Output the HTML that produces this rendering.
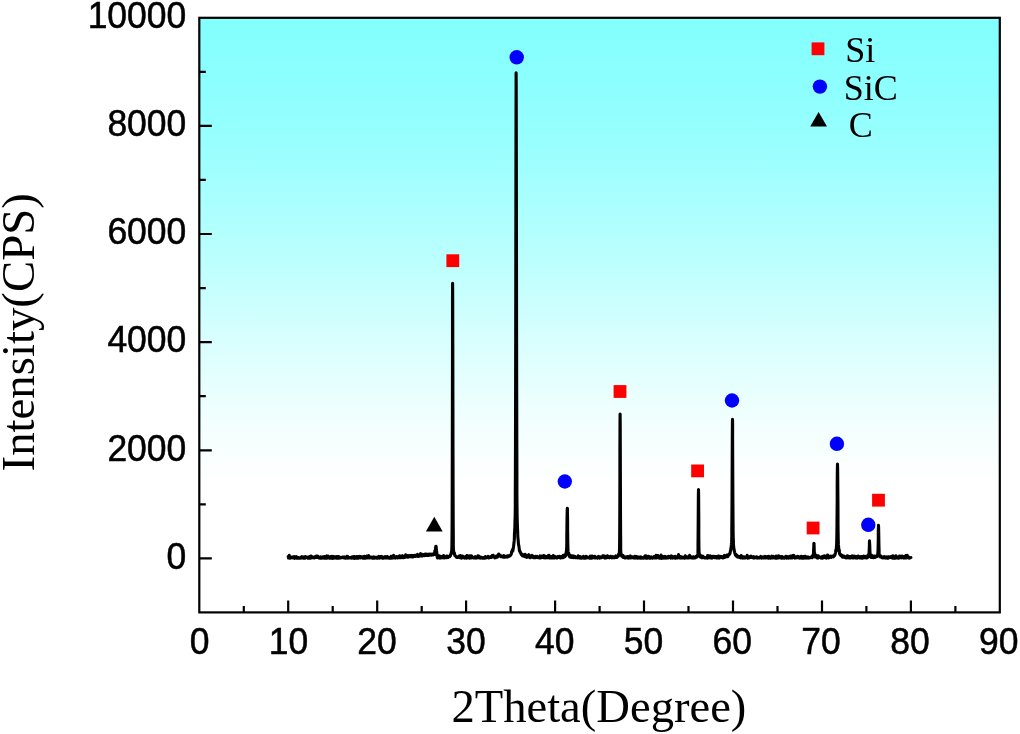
<!DOCTYPE html><html><head><meta charset="utf-8"><title>XRD pattern</title>
<style>html,body{margin:0;padding:0;background:#fff}body{width:1020px;height:734px;overflow:hidden}svg{display:block}.a{font-family:"Liberation Sans",Arial,sans-serif;font-size:35.5px;fill:#000;stroke:#000;stroke-width:0.5px}.s{font-family:"Liberation Serif","Times New Roman",serif;fill:#000}</style></head><body>
<svg width="1020" height="734" viewBox="0 0 1020 734">
<defs><linearGradient id="bg" x1="0" y1="0" x2="0" y2="1"><stop offset="0.0000" stop-color="rgb(130,255,254)"/><stop offset="0.1214" stop-color="rgb(141,255,254)"/><stop offset="0.2307" stop-color="rgb(155,255,254)"/><stop offset="0.3905" stop-color="rgb(184,255,254)"/><stop offset="0.5587" stop-color="rgb(219,255,254)"/><stop offset="0.6764" stop-color="rgb(241,255,254)"/><stop offset="0.7857" stop-color="rgb(255,255,255)"/><stop offset="1.0000" stop-color="rgb(255,255,255)"/></linearGradient></defs>
<rect width="1020" height="734" fill="#fff"/>
<rect x="199.3" y="17.8" width="800.5" height="594.6" fill="url(#bg)" stroke="#000" stroke-width="2.2"/>
<path d="M243.8,612.4 v-6.5 M288.2,612.4 v-12 M332.7,612.4 v-6.5 M377.2,612.4 v-12 M421.7,612.4 v-6.5 M466.1,612.4 v-12 M510.6,612.4 v-6.5 M555.1,612.4 v-12 M599.6,612.4 v-6.5 M644.0,612.4 v-12 M688.5,612.4 v-6.5 M733.0,612.4 v-12 M777.5,612.4 v-6.5 M822.0,612.4 v-12 M866.4,612.4 v-6.5 M910.9,612.4 v-12 M955.4,612.4 v-6.5 M199.3,558.4 h12.5 M199.3,504.3 h6.5 M199.3,450.3 h12.5 M199.3,396.2 h6.5 M199.3,342.1 h12.5 M199.3,288.1 h6.5 M199.3,234.0 h12.5 M199.3,179.9 h6.5 M199.3,125.8 h12.5 M199.3,71.8 h6.5" stroke="#000" stroke-width="2.2" fill="none"/>
<text class="a" transform="translate(186.3,568.7) scale(1.0,1.05)" text-anchor="end">0</text>
<text class="a" transform="translate(186.3,460.5) scale(1.0,1.05)" text-anchor="end">2000</text>
<text class="a" transform="translate(186.3,352.4) scale(1.0,1.05)" text-anchor="end">4000</text>
<text class="a" transform="translate(186.3,244.2) scale(1.0,1.05)" text-anchor="end">6000</text>
<text class="a" transform="translate(186.3,136.1) scale(1.0,1.05)" text-anchor="end">8000</text>
<text class="a" transform="translate(186.3,27.9) scale(1.0,1.05)" text-anchor="end">10000</text>
<text class="a" transform="translate(199.6,654.0) scale(1.0,1.045)" text-anchor="middle">0</text>
<text class="a" transform="translate(288.4,654.0) scale(1.0,1.045)" text-anchor="middle">10</text>
<text class="a" transform="translate(377.1,654.0) scale(1.0,1.045)" text-anchor="middle">20</text>
<text class="a" transform="translate(465.9,654.0) scale(1.0,1.045)" text-anchor="middle">30</text>
<text class="a" transform="translate(554.7,654.0) scale(1.0,1.045)" text-anchor="middle">40</text>
<text class="a" transform="translate(643.5,654.0) scale(1.0,1.045)" text-anchor="middle">50</text>
<text class="a" transform="translate(732.3,654.0) scale(1.0,1.045)" text-anchor="middle">60</text>
<text class="a" transform="translate(821.1,654.0) scale(1.0,1.045)" text-anchor="middle">70</text>
<text class="a" transform="translate(909.9,654.0) scale(1.0,1.045)" text-anchor="middle">80</text>
<text class="a" transform="translate(998.7,654.0) scale(1.0,1.045)" text-anchor="middle">90</text>
<text class="s" font-size="46.6" x="598.9" y="721.9" text-anchor="middle">2Theta(Degree)</text>
<text class="s" font-size="46.8" transform="translate(34.3,332.3) rotate(-90)" text-anchor="middle">Intensity(CPS)</text>
<path d="M288.2,556.4 288.6,558.0 289.0,557.8 289.3,555.4 289.7,558.3 290.0,557.9 290.4,557.7 290.7,557.9 291.1,557.8 291.5,557.1 291.8,557.3 292.2,557.8 292.5,557.5 292.9,557.7 293.2,556.9 293.6,557.1 293.9,557.5 294.3,556.6 294.7,558.3 295.0,557.5 295.4,557.1 295.7,558.0 296.1,557.5 296.4,556.6 296.8,557.6 297.1,558.2 297.5,557.5 297.9,557.6 298.2,558.1 298.6,557.7 298.9,558.1 299.3,557.8 299.6,558.1 300.0,557.9 300.3,558.2 300.7,558.2 301.1,558.0 301.4,556.8 301.8,556.6 302.1,556.9 302.5,558.0 302.8,557.0 303.2,558.1 303.5,558.2 303.9,557.1 304.3,557.1 304.6,558.1 305.0,558.2 305.3,556.5 305.7,557.0 306.0,557.6 306.4,557.5 306.8,557.1 307.1,557.7 307.5,557.9 307.8,558.2 308.2,557.0 308.5,557.4 308.9,558.1 309.2,557.9 309.6,556.6 310.0,556.9 310.3,557.4 310.7,558.2 311.0,556.0 311.4,557.4 311.7,557.7 312.1,556.6 312.4,557.1 312.8,557.8 313.2,557.7 313.5,557.8 313.9,557.6 314.2,557.9 314.6,556.8 314.9,557.2 315.3,557.6 315.6,557.5 316.0,557.5 316.4,556.2 316.7,557.5 317.1,556.3 317.4,557.3 317.8,556.3 318.1,557.1 318.5,557.5 318.8,557.8 319.2,557.4 319.6,557.4 319.9,558.1 320.3,557.7 320.6,558.0 321.0,556.9 321.3,557.2 321.7,558.2 322.1,558.0 322.4,557.4 322.8,556.9 323.1,557.1 323.5,557.8 323.8,557.3 324.2,558.2 324.5,556.5 324.9,557.6 325.3,557.4 325.6,558.2 326.0,558.2 326.3,556.4 326.7,555.9 327.0,558.2 327.4,556.2 327.7,556.1 328.1,556.1 328.5,557.3 328.8,558.0 329.2,557.7 329.5,557.7 329.9,558.2 330.2,557.5 330.6,558.1 330.9,556.6 331.3,558.1 331.7,558.1 332.0,556.3 332.4,557.1 332.7,558.3 333.1,557.8 333.4,558.1 333.8,556.5 334.1,557.9 334.5,557.8 334.9,558.1 335.2,557.5 335.6,557.2 335.9,558.0 336.3,556.6 336.6,557.4 337.0,558.2 337.4,557.8 337.7,558.1 338.1,556.6 338.4,557.3 338.8,557.9 339.1,558.1 339.5,556.9 339.8,557.5 340.2,557.7 340.6,558.0 340.9,557.7 341.3,557.7 341.6,557.3 342.0,557.6 342.3,557.7 342.7,557.3 343.0,557.0 343.4,557.4 343.8,557.7 344.1,557.9 344.5,557.0 344.8,557.2 345.2,558.2 345.5,557.8 345.9,558.2 346.2,557.5 346.6,557.6 347.0,556.3 347.3,556.6 347.7,556.5 348.0,558.2 348.4,557.3 348.7,557.9 349.1,557.3 349.4,557.9 349.8,557.8 350.2,557.6 350.5,557.5 350.9,558.0 351.2,558.1 351.6,557.1 351.9,558.1 352.3,556.7 352.6,556.7 353.0,558.1 353.4,558.1 353.7,558.2 354.1,556.6 354.4,556.8 354.8,558.3 355.1,556.7 355.5,557.1 355.9,557.5 356.2,558.2 356.6,556.5 356.9,556.5 357.3,557.8 357.6,558.2 358.0,557.9 358.3,556.6 358.7,558.1 359.1,557.9 359.4,556.6 359.8,556.4 360.1,556.6 360.5,557.9 360.8,557.0 361.2,556.8 361.5,557.3 361.9,556.9 362.3,556.8 362.6,557.1 363.0,558.1 363.3,556.9 363.7,556.6 364.0,558.3 364.4,556.2 364.7,558.2 365.1,557.9 365.5,557.9 365.8,558.1 366.2,556.3 366.5,557.8 366.9,556.0 367.2,557.5 367.6,557.9 367.9,557.9 368.3,556.6 368.7,555.7 369.0,557.9 369.4,557.5 369.7,557.9 370.1,557.6 370.4,557.1 370.8,557.6 371.2,557.7 371.5,557.2 371.9,557.6 372.2,558.1 372.6,557.6 372.9,557.2 373.3,558.1 373.6,556.9 374.0,557.0 374.4,558.2 374.7,558.1 375.1,557.3 375.4,557.4 375.8,557.4 376.1,557.9 376.5,557.3 376.8,558.2 377.2,558.1 377.6,557.7 377.9,558.1 378.3,556.7 378.6,556.5 379.0,557.4 379.3,558.1 379.7,557.9 380.0,558.0 380.4,556.6 380.8,557.5 381.1,556.9 381.5,556.4 381.8,557.8 382.2,558.1 382.5,558.2 382.9,557.2 383.2,558.2 383.6,557.6 384.0,557.0 384.3,557.0 384.7,557.8 385.0,557.4 385.4,556.6 385.7,557.1 386.1,557.8 386.5,557.3 386.8,557.7 387.2,557.8 387.5,556.5 387.9,558.0 388.2,557.4 388.6,558.0 388.9,557.5 389.3,558.2 389.7,557.7 390.0,557.8 390.4,558.2 390.7,558.2 391.1,556.3 391.4,558.1 391.8,556.5 392.1,557.3 392.5,557.4 392.9,558.0 393.2,557.4 393.6,555.3 393.9,556.5 394.3,556.9 394.6,557.1 395.0,558.0 395.3,558.1 395.7,557.8 396.1,557.8 396.4,556.5 396.8,557.1 397.1,557.1 397.5,557.8 397.8,557.4 398.2,556.7 398.5,557.7 398.9,557.6 399.3,557.7 399.6,555.9 400.0,557.1 400.3,556.8 400.7,556.6 401.0,557.7 401.4,557.5 401.8,556.1 402.1,556.2 402.5,555.7 402.8,557.6 403.2,556.6 403.5,557.1 403.9,557.5 404.2,556.6 404.6,557.3 405.0,556.8 405.3,557.2 405.7,554.8 406.0,556.2 406.4,556.6 406.7,556.9 407.1,556.3 407.4,555.6 407.8,557.2 408.2,556.0 408.5,557.0 408.9,555.5 409.2,556.0 409.6,556.6 409.9,555.8 410.3,556.7 410.6,555.5 411.0,555.4 411.4,556.2 411.7,556.8 412.1,556.9 412.4,555.6 412.8,555.8 413.1,556.9 413.5,555.5 413.8,556.6 414.2,555.6 414.6,556.3 414.9,555.3 415.3,555.3 415.6,556.3 416.0,556.1 416.3,555.6 416.7,555.8 417.0,555.1 417.4,554.4 417.8,556.4 418.1,556.5 418.5,556.5 418.8,556.2 419.2,555.4 419.5,556.1 419.9,555.0 420.3,554.9 420.6,553.7 421.0,555.7 421.3,555.9 421.7,555.4 422.0,554.3 422.4,555.4 422.7,555.9 423.1,555.6 423.5,554.7 423.8,554.9 424.2,555.1 424.5,554.5 424.9,555.6 425.2,554.1 425.6,554.7 425.9,555.4 426.3,555.4 426.7,554.8 427.0,554.1 427.4,555.4 427.7,555.2 428.1,554.9 428.4,555.5 428.8,554.9 429.1,554.1 429.5,555.2 429.9,554.9 430.2,554.9 430.6,554.1 430.9,554.6 431.3,555.2 431.6,554.5 432.0,554.8 432.3,554.0 432.7,554.3 433.1,554.9 433.4,554.3 433.8,554.3 434.1,553.9 434.2,553.7 434.3,553.5 434.4,554.4 434.5,554.4 434.6,552.7 434.7,554.5 434.8,550.7 434.8,552.8 434.9,553.9 435.0,553.8 435.1,551.9 435.2,551.8 435.3,551.7 435.4,551.4 435.5,550.3 435.6,548.6 435.6,548.5 435.7,546.5 435.8,547.1 435.9,546.8 436.0,547.2 436.1,546.3 436.2,547.0 436.3,549.2 436.4,550.2 436.4,551.1 436.5,552.0 436.6,551.4 436.7,551.5 436.8,552.3 436.9,553.8 437.0,554.0 437.1,556.6 437.2,556.9 437.2,556.6 437.3,556.4 437.4,557.5 437.5,557.9 437.6,557.7 437.7,557.9 438.0,556.9 438.4,557.5 438.8,557.7 439.1,555.7 439.5,557.3 439.8,556.3 440.2,558.1 440.5,557.0 440.9,556.3 441.2,557.8 441.6,556.5 442.0,557.8 442.3,557.5 442.7,556.6 443.0,557.2 443.4,557.4 443.7,555.5 444.1,558.0 444.4,557.9 444.8,557.6 445.2,557.7 445.5,557.7 445.9,556.5 446.2,557.2 446.6,556.1 446.9,557.6 447.3,557.4 447.6,556.2 448.0,557.6 448.4,557.5 448.7,556.7 449.1,556.3 449.4,556.4 449.8,556.5 450.1,555.4 450.5,555.5 450.9,553.8 450.9,554.5 451.0,554.0 451.1,553.7 451.2,553.7 451.3,552.3 451.4,552.8 451.5,552.8 451.6,551.8 451.7,551.1 451.7,549.8 451.8,549.4 451.9,546.0 452.0,537.9 452.1,524.0 452.2,496.7 452.3,455.0 452.4,402.3 452.5,344.3 452.5,301.0 452.6,283.3 452.7,299.1 452.8,345.5 452.9,402.2 453.0,456.2 453.1,496.2 453.2,523.8 453.3,536.7 453.3,545.4 453.4,549.3 453.5,549.9 453.6,551.5 453.7,551.1 453.8,552.2 453.9,552.7 454.0,552.9 454.1,553.6 454.1,553.8 454.2,554.0 454.3,553.2 454.4,552.9 454.8,555.3 455.1,555.6 455.5,556.0 455.8,556.4 456.2,556.9 456.5,557.3 456.9,557.4 457.3,557.0 457.6,557.0 458.0,556.6 458.3,557.4 458.7,556.4 459.0,556.9 459.4,556.9 459.7,555.9 460.1,557.8 460.5,555.5 460.8,557.9 461.2,556.2 461.5,558.1 461.9,556.8 462.2,557.7 462.6,556.0 462.9,557.5 463.3,557.6 463.7,557.1 464.0,557.2 464.4,557.6 464.7,558.0 465.1,557.5 465.4,556.7 465.8,556.9 466.1,557.5 466.5,558.1 466.9,555.6 467.2,557.9 467.6,557.7 467.9,557.7 468.3,555.9 468.6,557.6 469.0,557.9 469.4,558.1 469.7,557.3 470.1,555.8 470.4,556.9 470.8,556.5 471.1,558.0 471.5,557.5 471.8,555.9 472.2,557.6 472.6,557.1 472.9,557.7 473.3,557.6 473.6,557.9 474.0,557.4 474.3,557.6 474.7,557.8 475.0,556.8 475.4,557.7 475.8,558.0 476.1,556.9 476.5,557.7 476.8,557.9 477.2,557.5 477.5,557.3 477.9,555.9 478.2,557.6 478.6,556.1 479.0,557.3 479.3,558.0 479.7,558.0 480.0,557.8 480.4,558.1 480.7,557.1 481.1,557.4 481.4,557.9 481.8,557.6 482.2,558.1 482.5,558.1 482.9,557.5 483.2,557.5 483.6,558.2 483.9,558.1 484.3,557.7 484.7,557.5 485.0,558.2 485.4,556.6 485.7,557.9 486.1,557.4 486.4,557.8 486.8,557.3 487.1,557.3 487.5,557.4 487.9,557.4 488.2,556.4 488.6,557.9 488.9,557.4 489.3,557.9 489.6,557.0 490.0,556.8 490.3,557.5 490.7,557.2 491.1,557.3 491.4,557.4 491.8,556.9 492.1,555.7 492.5,556.8 492.8,556.5 493.2,555.3 493.5,556.6 493.9,557.2 494.3,557.4 494.6,556.7 495.0,557.9 495.3,557.3 495.7,557.3 496.0,557.5 496.4,556.1 496.7,556.8 497.1,556.0 497.5,557.1 497.8,556.2 498.2,554.7 498.5,554.2 498.9,554.7 499.2,554.5 499.6,555.7 500.0,556.0 500.3,555.7 500.7,556.7 501.0,555.7 501.4,556.1 501.7,556.5 502.1,556.8 502.4,556.9 502.8,557.0 503.2,556.0 503.5,557.2 503.9,555.7 504.2,556.9 504.6,557.1 504.9,556.2 505.3,557.1 505.6,556.9 506.0,556.9 506.4,556.9 506.7,556.7 507.1,557.0 507.4,555.9 507.8,556.6 508.1,555.8 508.5,556.7 508.8,555.8 509.2,556.3 509.6,555.5 509.9,555.8 510.3,555.6 510.6,555.0 511.0,554.7 511.3,554.0 511.7,551.5 512.0,551.9 512.4,549.8 512.8,551.0 513.1,549.3 513.5,546.7 513.8,544.4 514.2,540.7 514.4,538.0 514.4,535.6 514.5,532.5 514.6,532.8 514.7,529.0 514.8,528.6 514.9,526.1 515.0,520.1 515.1,519.1 515.2,514.3 515.3,506.0 515.3,493.4 515.4,471.8 515.5,441.0 515.6,396.1 515.7,339.0 515.8,269.0 515.9,197.0 516.0,133.7 516.1,87.4 516.1,72.8 516.2,88.1 516.3,133.4 516.4,197.5 516.5,268.7 516.6,338.6 516.7,395.9 516.8,440.7 516.9,471.8 516.9,493.6 517.0,506.1 517.1,514.2 517.2,519.2 517.3,522.4 517.4,525.4 517.5,528.1 517.6,530.3 517.7,532.4 517.7,533.4 517.8,536.1 517.9,537.6 518.1,539.4 518.5,544.5 518.8,545.5 519.2,548.4 519.5,551.0 519.9,550.9 520.2,552.4 520.6,553.0 520.9,552.8 521.3,554.6 521.7,554.8 522.0,555.4 522.4,555.9 522.7,554.5 523.1,555.0 523.4,555.9 523.8,555.5 524.1,555.7 524.5,556.6 524.9,556.7 525.2,554.3 525.6,556.4 525.9,556.9 526.3,556.8 526.6,555.6 527.0,557.3 527.3,556.4 527.7,556.9 528.1,556.1 528.4,555.2 528.8,554.7 529.1,556.9 529.5,556.5 529.8,557.6 530.2,556.9 530.5,557.6 530.9,555.9 531.3,556.6 531.6,556.6 532.0,556.8 532.3,555.4 532.7,557.0 533.0,556.1 533.4,557.7 533.8,557.5 534.1,557.2 534.5,556.8 534.8,557.7 535.2,557.7 535.5,556.3 535.9,556.3 536.2,557.6 536.6,557.5 537.0,557.2 537.3,556.4 537.7,557.1 538.0,557.6 538.4,557.4 538.7,557.7 539.1,557.3 539.4,557.2 539.8,558.0 540.2,555.9 540.5,557.9 540.9,557.2 541.2,556.8 541.6,557.5 541.9,556.2 542.3,557.2 542.6,557.4 543.0,556.8 543.4,557.2 543.7,555.6 544.1,556.5 544.4,557.8 544.8,557.0 545.1,556.2 545.5,557.2 545.8,557.8 546.2,557.2 546.6,557.7 546.9,557.7 547.3,556.4 547.6,557.6 548.0,557.3 548.3,555.5 548.7,557.6 549.1,555.3 549.4,557.8 549.8,558.0 550.1,558.0 550.5,557.2 550.8,557.5 551.2,557.8 551.5,556.5 551.9,557.0 552.3,557.9 552.6,557.4 553.0,556.6 553.3,555.5 553.7,558.0 554.0,557.6 554.4,558.0 554.7,557.9 555.1,557.2 555.5,556.7 555.8,557.1 556.2,557.3 556.5,557.7 556.9,558.0 557.2,557.4 557.6,556.6 557.9,557.4 558.3,557.4 558.7,556.8 559.0,557.4 559.4,556.3 559.7,557.6 560.1,557.8 560.4,558.0 560.8,557.1 561.1,557.2 561.5,556.5 561.9,557.6 562.2,557.1 562.6,557.6 562.9,557.7 563.3,555.4 563.6,556.3 564.0,557.2 564.4,555.3 564.7,555.8 565.1,556.6 565.4,555.7 565.5,556.1 565.6,555.8 565.7,555.1 565.8,553.6 565.9,554.6 566.0,554.9 566.0,554.8 566.1,553.9 566.2,554.0 566.3,551.2 566.4,552.3 566.5,551.1 566.6,548.7 566.7,547.1 566.8,541.8 566.8,537.3 566.9,529.5 567.0,520.9 567.1,515.5 567.2,510.2 567.3,508.3 567.4,508.4 567.5,514.8 567.6,522.0 567.6,530.2 567.7,535.1 567.8,543.3 567.9,546.2 568.0,549.7 568.1,551.9 568.2,552.7 568.3,552.8 568.4,553.6 568.4,553.6 568.5,554.7 568.6,553.7 568.7,553.3 568.8,553.1 568.9,555.3 569.0,554.1 569.1,555.9 569.3,555.8 569.7,556.8 570.0,555.0 570.4,555.4 570.8,556.9 571.1,557.4 571.5,557.0 571.8,557.5 572.2,557.5 572.5,557.0 572.9,555.8 573.2,556.9 573.6,557.6 574.0,557.2 574.3,557.1 574.7,556.4 575.0,556.5 575.4,557.1 575.7,557.7 576.1,557.4 576.4,557.6 576.8,557.1 577.2,557.6 577.5,557.8 577.9,556.8 578.2,555.8 578.6,557.5 578.9,557.4 579.3,558.0 579.7,556.5 580.0,557.3 580.4,557.8 580.7,557.8 581.1,558.2 581.4,557.2 581.8,558.1 582.1,557.4 582.5,558.0 582.9,557.8 583.2,557.4 583.6,556.4 583.9,557.5 584.3,558.2 584.6,557.5 585.0,558.1 585.3,557.4 585.7,558.0 586.1,556.3 586.4,557.6 586.8,557.8 587.1,557.4 587.5,557.7 587.8,557.1 588.2,557.7 588.5,557.3 588.9,557.7 589.3,558.0 589.6,558.2 590.0,556.8 590.3,556.2 590.7,558.2 591.0,558.1 591.4,557.8 591.7,558.2 592.1,556.1 592.5,557.2 592.8,557.7 593.2,557.1 593.5,557.7 593.9,556.6 594.2,557.6 594.6,557.8 594.9,556.3 595.3,557.9 595.7,558.0 596.0,557.7 596.4,557.8 596.7,557.4 597.1,557.7 597.4,558.2 597.8,557.4 598.2,556.6 598.5,556.4 598.9,556.6 599.2,557.5 599.6,558.1 599.9,557.5 600.3,557.3 600.6,557.5 601.0,556.8 601.4,557.1 601.7,557.7 602.1,556.8 602.4,557.2 602.8,555.9 603.1,557.3 603.5,555.9 603.8,556.7 604.2,556.1 604.6,558.0 604.9,558.1 605.3,557.8 605.6,556.2 606.0,558.0 606.3,557.2 606.7,557.7 607.0,557.0 607.4,555.8 607.8,556.1 608.1,556.3 608.5,557.5 608.8,557.5 609.2,557.8 609.5,557.2 609.9,557.0 610.2,557.4 610.6,556.3 611.0,557.2 611.3,557.6 611.7,557.1 612.0,557.9 612.4,557.1 612.7,556.6 613.1,557.7 613.5,557.4 613.8,557.7 614.2,557.0 614.5,557.7 614.9,557.7 615.2,557.0 615.6,556.8 615.9,555.9 616.3,557.3 616.7,557.4 617.0,557.4 617.4,556.5 617.7,555.9 618.1,556.4 618.3,555.4 618.4,556.2 618.5,555.7 618.6,554.2 618.7,555.5 618.8,555.7 618.9,554.5 619.0,554.7 619.1,554.8 619.1,554.8 619.2,553.8 619.3,552.6 619.4,552.2 619.5,549.8 619.6,544.7 619.7,532.6 619.8,512.5 619.9,482.4 619.9,450.5 620.0,424.5 620.1,414.0 620.2,423.7 620.3,450.3 620.4,483.5 620.5,511.9 620.6,531.7 620.7,543.7 620.7,550.1 620.8,551.5 620.9,553.1 621.0,553.9 621.1,554.3 621.2,554.1 621.3,554.0 621.4,555.1 621.5,555.5 621.5,555.3 621.6,555.4 621.7,556.2 621.8,556.2 621.9,555.7 622.0,555.9 622.3,555.8 622.7,556.9 623.1,555.5 623.4,557.4 623.8,557.2 624.1,557.3 624.5,556.7 624.8,557.9 625.2,558.0 625.5,557.0 625.9,557.9 626.3,557.2 626.6,557.0 627.0,557.7 627.3,557.8 627.7,556.5 628.0,556.8 628.4,557.4 628.8,558.1 629.1,556.7 629.5,557.1 629.8,557.6 630.2,557.2 630.5,555.9 630.9,557.9 631.2,556.7 631.6,557.5 632.0,557.8 632.3,557.7 632.7,557.0 633.0,557.4 633.4,557.9 633.7,557.8 634.1,556.9 634.4,558.0 634.8,556.3 635.2,558.1 635.5,557.7 635.9,557.2 636.2,558.0 636.6,556.6 636.9,557.9 637.3,558.1 637.6,558.2 638.0,557.1 638.4,557.7 638.7,557.1 639.1,557.9 639.4,557.3 639.8,557.3 640.1,558.1 640.5,557.4 640.8,556.8 641.2,558.2 641.6,557.7 641.9,557.6 642.3,557.5 642.6,558.1 643.0,558.2 643.3,557.8 643.7,557.7 644.0,557.8 644.4,556.9 644.8,556.2 645.1,557.7 645.5,558.0 645.8,555.7 646.2,556.9 646.5,558.2 646.9,557.7 647.3,557.3 647.6,558.1 648.0,556.4 648.3,556.3 648.7,557.7 649.0,557.9 649.4,558.1 649.7,556.9 650.1,557.4 650.5,557.2 650.8,558.1 651.2,557.3 651.5,557.0 651.9,558.0 652.2,557.9 652.6,558.2 652.9,558.0 653.3,557.3 653.7,557.7 654.0,556.6 654.4,556.6 654.7,557.9 655.1,558.0 655.4,557.8 655.8,557.8 656.1,555.4 656.5,557.9 656.9,557.7 657.2,557.7 657.6,557.4 657.9,555.6 658.3,556.9 658.6,557.8 659.0,557.0 659.3,556.4 659.7,558.2 660.1,557.8 660.4,557.7 660.8,558.0 661.1,555.1 661.5,557.7 661.8,558.3 662.2,557.8 662.6,557.1 662.9,557.6 663.3,556.7 663.6,558.1 664.0,558.2 664.3,557.4 664.7,557.0 665.0,556.4 665.4,557.6 665.8,557.9 666.1,558.1 666.5,557.4 666.8,557.9 667.2,556.8 667.5,557.9 667.9,558.0 668.2,558.0 668.6,556.3 669.0,556.8 669.3,557.2 669.7,557.1 670.0,556.7 670.4,557.2 670.7,558.1 671.1,557.5 671.4,555.9 671.8,557.7 672.2,558.0 672.5,556.4 672.9,557.9 673.2,557.6 673.6,557.8 673.9,557.8 674.3,557.8 674.6,558.0 675.0,556.2 675.4,557.4 675.7,558.1 676.1,556.9 676.4,558.0 676.8,556.9 677.1,556.6 677.5,557.9 677.9,557.1 678.2,557.2 678.6,554.6 678.9,557.4 679.3,557.1 679.6,558.0 680.0,556.5 680.3,557.2 680.7,556.7 681.1,558.1 681.4,557.2 681.8,556.8 682.1,557.4 682.5,557.4 682.8,558.0 683.2,558.0 683.5,557.3 683.9,557.3 684.3,556.9 684.6,558.2 685.0,556.9 685.3,555.8 685.7,556.5 686.0,557.0 686.4,556.9 686.7,557.9 687.1,557.8 687.5,558.0 687.8,556.9 688.2,558.0 688.5,557.4 688.9,557.0 689.2,557.9 689.6,555.4 689.9,557.1 690.3,557.1 690.7,557.4 691.0,557.4 691.4,558.0 691.7,558.0 692.1,556.9 692.4,557.7 692.8,557.1 693.2,558.1 693.5,556.8 693.9,557.6 694.2,557.4 694.6,557.5 694.9,557.9 695.3,557.3 695.6,557.6 696.0,556.6 696.4,556.2 696.7,556.1 696.8,555.9 696.9,557.0 697.0,556.5 697.1,555.9 697.2,556.1 697.2,556.0 697.3,555.5 697.4,556.0 697.5,555.6 697.6,555.7 697.7,554.9 697.8,554.6 697.9,553.9 698.0,548.7 698.0,545.0 698.1,535.8 698.2,521.5 698.3,505.9 698.4,494.0 698.5,489.5 698.6,494.4 698.7,506.6 698.8,519.7 698.8,535.5 698.9,545.3 699.0,551.3 699.1,552.7 699.2,555.2 699.3,555.7 699.4,555.9 699.5,554.9 699.6,554.9 699.6,555.9 699.7,554.3 699.8,556.8 699.9,556.2 700.0,556.5 700.1,554.9 700.2,556.1 700.3,555.1 700.6,557.3 701.0,555.7 701.3,557.2 701.7,557.4 702.0,557.8 702.4,557.5 702.8,556.2 703.1,556.6 703.5,557.4 703.8,557.3 704.2,557.9 704.5,557.9 704.9,557.4 705.2,557.7 705.6,557.9 706.0,557.8 706.3,557.6 706.7,557.7 707.0,557.2 707.4,558.1 707.7,555.5 708.1,555.8 708.4,557.5 708.8,557.8 709.2,556.0 709.5,557.5 709.9,557.2 710.2,557.4 710.6,555.9 710.9,557.9 711.3,558.0 711.7,557.3 712.0,558.1 712.4,557.2 712.7,556.4 713.1,556.7 713.4,556.4 713.8,556.3 714.1,557.3 714.5,557.7 714.9,556.5 715.2,557.5 715.6,557.5 715.9,556.5 716.3,557.9 716.6,557.7 717.0,556.5 717.3,557.9 717.7,556.7 718.1,556.2 718.4,557.9 718.8,556.1 719.1,557.3 719.5,558.0 719.8,556.8 720.2,556.4 720.5,557.6 720.9,557.5 721.3,556.5 721.6,557.1 722.0,557.1 722.3,557.8 722.7,557.9 723.0,557.2 723.4,557.8 723.7,556.3 724.1,557.6 724.5,555.4 724.8,556.2 725.2,556.3 725.5,557.1 725.9,556.1 726.2,556.7 726.6,556.5 727.0,555.0 727.3,556.0 727.7,556.7 728.0,556.2 728.4,555.0 728.7,555.2 729.1,554.2 729.4,554.5 729.8,553.7 730.2,552.5 730.5,550.4 730.7,550.4 730.8,549.8 730.9,548.4 731.0,548.5 731.0,547.5 731.1,547.8 731.2,546.4 731.3,545.8 731.4,544.7 731.5,543.0 731.6,542.4 731.7,539.8 731.8,535.6 731.8,529.7 731.9,517.4 732.0,503.2 732.1,484.4 732.2,461.7 732.3,439.3 732.4,424.0 732.5,419.3 732.6,423.6 732.6,438.9 732.7,461.1 732.8,483.9 732.9,502.2 733.0,518.6 733.1,529.7 733.2,535.9 733.3,539.8 733.4,540.1 733.4,543.6 733.5,545.2 733.6,545.6 733.7,547.1 733.8,547.6 733.9,548.6 734.0,549.4 734.1,549.4 734.2,549.6 734.2,550.9 734.4,551.0 734.8,552.8 735.1,554.0 735.5,555.2 735.8,554.2 736.2,555.4 736.6,556.2 736.9,555.3 737.3,556.4 737.6,557.0 738.0,556.4 738.3,557.2 738.7,557.3 739.0,556.4 739.4,557.3 739.8,557.6 740.1,557.0 740.5,557.2 740.8,557.8 741.2,555.6 741.5,557.4 741.9,556.3 742.3,557.6 742.6,558.0 743.0,557.5 743.3,556.9 743.7,557.5 744.0,558.0 744.4,556.9 744.7,557.1 745.1,558.0 745.5,557.7 745.8,557.5 746.2,556.9 746.5,557.3 746.9,557.3 747.2,555.4 747.6,558.1 747.9,557.9 748.3,557.7 748.7,557.1 749.0,557.8 749.4,556.9 749.7,557.7 750.1,557.6 750.4,556.7 750.8,557.5 751.1,556.2 751.5,556.4 751.9,557.5 752.2,557.6 752.6,557.7 752.9,557.5 753.3,556.9 753.6,556.7 754.0,558.1 754.3,557.8 754.7,557.9 755.1,557.9 755.4,557.8 755.8,557.1 756.1,557.6 756.5,557.5 756.8,556.9 757.2,558.1 757.6,557.9 757.9,557.3 758.3,557.8 758.6,557.9 759.0,557.5 759.3,557.8 759.7,558.0 760.0,557.9 760.4,557.4 760.8,556.4 761.1,557.4 761.5,557.5 761.8,558.1 762.2,557.9 762.5,557.2 762.9,556.8 763.2,557.7 763.6,557.9 764.0,557.6 764.3,557.9 764.7,556.7 765.0,556.3 765.4,556.6 765.7,557.9 766.1,557.2 766.4,557.7 766.8,557.1 767.2,557.9 767.5,558.0 767.9,556.6 768.2,557.7 768.6,558.1 768.9,556.2 769.3,558.1 769.6,557.9 770.0,557.4 770.4,557.5 770.7,558.1 771.1,556.9 771.4,557.3 771.8,556.2 772.1,558.0 772.5,558.0 772.8,556.8 773.2,556.3 773.6,557.2 773.9,557.7 774.3,557.6 774.6,557.1 775.0,557.5 775.3,558.1 775.7,556.7 776.1,556.1 776.4,557.2 776.8,558.2 777.1,558.0 777.5,556.2 777.8,557.8 778.2,557.9 778.5,555.9 778.9,557.6 779.3,557.7 779.6,557.3 780.0,556.9 780.3,556.9 780.7,557.4 781.0,556.5 781.4,558.2 781.7,557.4 782.1,558.2 782.5,556.7 782.8,558.0 783.2,557.5 783.5,557.9 783.9,558.1 784.2,557.6 784.6,558.0 784.9,557.0 785.3,557.4 785.7,557.6 786.0,556.3 786.4,558.0 786.7,558.2 787.1,557.6 787.4,556.7 787.8,557.5 788.1,557.6 788.5,558.0 788.9,557.3 789.2,556.6 789.6,558.0 789.9,558.0 790.3,557.8 790.6,556.0 791.0,557.6 791.4,557.9 791.7,557.0 792.1,558.0 792.4,557.6 792.8,555.6 793.1,556.7 793.5,556.5 793.8,555.4 794.2,556.6 794.6,557.7 794.9,558.1 795.3,557.0 795.6,558.0 796.0,556.8 796.3,556.8 796.7,557.8 797.0,557.8 797.4,557.8 797.8,556.4 798.1,557.8 798.5,556.7 798.8,557.6 799.2,558.0 799.5,558.1 799.9,557.2 800.2,557.9 800.6,557.6 801.0,558.0 801.3,556.3 801.7,556.5 802.0,558.1 802.4,558.2 802.7,558.1 803.1,557.6 803.4,556.5 803.8,558.2 804.2,558.0 804.5,557.1 804.9,556.4 805.2,557.5 805.6,556.4 805.9,558.1 806.3,557.5 806.7,557.2 807.0,557.8 807.4,557.2 807.7,557.4 808.1,556.9 808.4,558.1 808.8,557.8 809.1,557.7 809.5,557.8 809.9,557.9 810.2,557.6 810.6,557.1 810.9,557.3 811.3,557.2 811.6,557.0 812.0,557.2 812.2,557.6 812.3,557.7 812.3,557.6 812.4,556.7 812.5,555.7 812.6,556.1 812.7,555.6 812.8,556.0 812.9,556.6 813.0,555.7 813.1,556.6 813.1,556.7 813.2,555.5 813.3,554.7 813.4,553.9 813.5,553.2 813.6,549.7 813.7,548.8 813.8,546.4 813.9,543.2 813.9,543.4 814.0,543.7 814.1,545.3 814.2,548.7 814.3,551.4 814.4,553.1 814.5,554.8 814.6,555.5 814.7,552.9 814.7,556.5 814.8,555.7 814.9,556.0 815.0,557.0 815.1,557.0 815.2,556.5 815.3,556.2 815.4,556.7 815.5,555.1 815.5,556.5 815.6,556.8 815.7,556.9 815.9,555.4 816.3,557.0 816.6,556.6 817.0,557.8 817.3,555.8 817.7,556.3 818.0,558.1 818.4,555.8 818.7,557.1 819.1,557.0 819.5,557.3 819.8,557.3 820.2,557.5 820.5,557.9 820.9,557.0 821.2,556.9 821.6,558.1 822.0,558.0 822.3,557.7 822.7,556.6 823.0,558.1 823.4,557.6 823.7,556.1 824.1,556.2 824.4,556.9 824.8,555.9 825.2,557.7 825.5,557.8 825.9,557.0 826.2,557.6 826.6,558.0 826.9,556.1 827.3,557.3 827.6,555.0 828.0,555.9 828.4,556.4 828.7,557.9 829.1,557.5 829.4,557.5 829.8,557.0 830.1,557.2 830.5,556.1 830.8,556.9 831.2,557.4 831.6,557.2 831.9,556.4 832.3,556.1 832.6,556.6 833.0,556.3 833.3,556.8 833.7,556.5 834.0,555.6 834.4,555.8 834.8,555.3 835.1,554.2 835.5,552.6 835.7,551.7 835.8,550.0 835.9,551.2 836.0,551.1 836.1,549.4 836.2,549.5 836.3,548.9 836.4,547.5 836.4,547.4 836.5,546.2 836.6,544.9 836.7,541.8 836.8,538.1 836.9,531.9 837.0,521.7 837.1,511.8 837.2,500.5 837.2,487.7 837.3,473.9 837.4,467.9 837.5,464.1 837.6,466.7 837.7,474.6 837.8,487.6 837.9,499.1 838.0,513.0 838.0,523.8 838.1,532.0 838.2,537.7 838.3,541.9 838.4,544.9 838.5,545.6 838.6,546.7 838.7,548.3 838.8,549.5 838.9,548.8 838.9,549.1 839.0,550.7 839.1,551.3 839.2,551.5 839.3,550.1 839.4,552.8 839.7,554.1 840.1,554.0 840.5,554.3 840.8,555.6 841.2,555.7 841.5,556.0 841.9,555.2 842.2,556.9 842.6,556.8 842.9,557.2 843.3,557.0 843.7,556.0 844.0,556.8 844.4,556.5 844.7,557.5 845.1,557.2 845.4,557.3 845.8,557.9 846.1,557.9 846.5,557.9 846.9,556.2 847.2,555.8 847.6,555.8 847.9,556.8 848.3,557.5 848.6,556.9 849.0,558.0 849.3,557.8 849.7,556.5 850.1,557.9 850.4,556.5 850.8,556.6 851.1,557.8 851.5,557.2 851.8,556.0 852.2,555.9 852.5,556.6 852.9,558.0 853.3,556.8 853.6,557.9 854.0,557.3 854.3,556.2 854.7,557.3 855.0,557.4 855.4,557.9 855.8,557.5 856.1,556.4 856.5,558.0 856.8,557.0 857.2,558.1 857.5,557.1 857.9,557.5 858.2,556.1 858.6,556.7 859.0,557.7 859.3,558.0 859.7,558.0 860.0,556.8 860.4,557.2 860.7,557.7 861.1,556.5 861.4,557.1 861.8,558.1 862.2,556.5 862.5,558.2 862.9,558.0 863.2,557.7 863.6,557.5 863.9,556.2 864.3,557.4 864.6,557.6 865.0,557.6 865.4,556.4 865.7,556.7 866.1,558.0 866.4,557.3 866.8,557.1 867.1,557.8 867.5,556.5 867.8,556.6 867.8,557.5 867.9,555.2 868.0,556.4 868.1,556.0 868.2,556.4 868.3,555.9 868.4,555.7 868.5,556.0 868.6,556.5 868.6,556.3 868.7,556.3 868.8,556.1 868.9,553.2 869.0,554.8 869.1,551.9 869.2,550.1 869.3,547.9 869.4,545.5 869.4,543.7 869.5,540.8 869.6,543.6 869.7,544.4 869.8,547.4 869.9,550.6 870.0,552.1 870.1,553.6 870.2,555.6 870.2,555.5 870.3,556.7 870.4,556.8 870.5,556.9 870.6,556.1 870.7,556.1 870.8,557.0 870.9,555.7 871.0,556.9 871.1,556.5 871.1,556.4 871.2,557.3 871.3,557.5 871.4,555.0 871.8,556.4 872.1,556.4 872.5,556.7 872.8,556.0 873.2,557.6 873.5,557.6 873.9,556.6 874.3,556.8 874.6,556.0 875.0,557.5 875.3,557.1 875.7,557.1 876.0,556.7 876.4,556.1 876.7,556.4 876.8,556.2 876.9,556.5 877.0,556.4 877.1,555.9 877.2,555.5 877.3,556.4 877.4,556.4 877.5,555.7 877.5,555.6 877.6,555.6 877.7,554.1 877.8,553.7 877.9,552.0 878.0,551.1 878.1,547.6 878.2,543.3 878.3,537.9 878.3,531.7 878.4,527.9 878.5,525.4 878.6,527.5 878.7,532.2 878.8,537.4 878.9,543.3 879.0,548.1 879.1,551.2 879.1,553.4 879.2,555.1 879.3,554.4 879.4,555.3 879.5,555.2 879.6,555.4 879.7,555.7 879.8,556.2 879.9,555.8 879.9,556.4 880.0,555.9 880.1,556.9 880.2,555.8 880.3,556.9 880.7,556.0 881.0,556.7 881.4,556.8 881.7,556.8 882.1,557.8 882.4,557.9 882.8,557.2 883.1,557.8 883.5,556.9 883.9,557.6 884.2,557.0 884.6,556.6 884.9,557.6 885.3,558.1 885.6,557.3 886.0,557.6 886.3,557.3 886.7,556.8 887.1,558.2 887.4,558.2 887.8,557.8 888.1,558.2 888.5,556.8 888.8,557.6 889.2,557.1 889.6,557.3 889.9,557.4 890.3,556.9 890.6,557.1 891.0,557.4 891.3,557.6 891.7,556.4 892.0,557.7 892.4,558.0 892.8,558.2 893.1,555.8 893.5,558.1 893.8,558.2 894.2,557.9 894.5,558.1 894.9,557.0 895.2,558.1 895.6,558.1 896.0,555.8 896.3,557.7 896.7,557.0 897.0,558.0 897.4,557.6 897.7,557.6 898.1,558.0 898.4,557.3 898.8,556.7 899.2,558.1 899.5,556.1 899.9,557.2 900.2,557.2 900.6,557.5 900.9,556.3 901.3,556.8 901.6,557.8 902.0,556.1 902.4,556.2 902.7,557.8 903.1,557.4 903.4,557.7 903.8,558.0 904.1,556.5 904.5,556.5 904.9,556.9 905.2,558.0 905.6,557.1 905.9,555.6 906.3,556.9 906.6,557.8 907.0,557.5 907.3,555.4 907.7,557.7 908.1,557.1 908.4,556.8 908.8,558.0 909.1,558.1 909.5,558.1 909.8,558.0 910.2,558.0 910.5,557.7 910.9,557.6" fill="none" stroke="#000" stroke-width="3.1" stroke-linejoin="round" stroke-linecap="round"/>
<rect x="446.4" y="254.3" width="12.8" height="12.8" fill="#ff0000"/>
<rect x="613.6" y="385.1" width="12.8" height="12.8" fill="#ff0000"/>
<rect x="691.2" y="464.5" width="12.8" height="12.8" fill="#ff0000"/>
<rect x="806.7" y="521.6" width="12.8" height="12.8" fill="#ff0000"/>
<rect x="872.1" y="493.8" width="12.8" height="12.8" fill="#ff0000"/>
<rect x="811.6" y="42.4" width="12.8" height="12.8" fill="#ff0000"/>
<circle cx="516.7" cy="57.3" r="7.2" fill="#0000ff"/>
<circle cx="564.8" cy="481.5" r="7.2" fill="#0000ff"/>
<circle cx="732" cy="400.5" r="7.2" fill="#0000ff"/>
<circle cx="836.9" cy="443.8" r="7.2" fill="#0000ff"/>
<circle cx="868.3" cy="524.8" r="7.2" fill="#0000ff"/>
<circle cx="819.9" cy="86.6" r="7.2" fill="#0000ff"/>
<path d="M434.3,516.8 L442.7,531.5 L425.90000000000003,531.5 Z" fill="#000"/>
<path d="M818.6,112 L827.0,126.5 L810.2,126.5 Z" fill="#000"/>
<text class="s" font-size="36" x="845.3" y="62.1">Si</text>
<text class="s" font-size="36" x="843.8" y="100.1">SiC</text>
<text class="s" font-size="36" x="848.8" y="137.1">C</text>
</svg></body></html>
